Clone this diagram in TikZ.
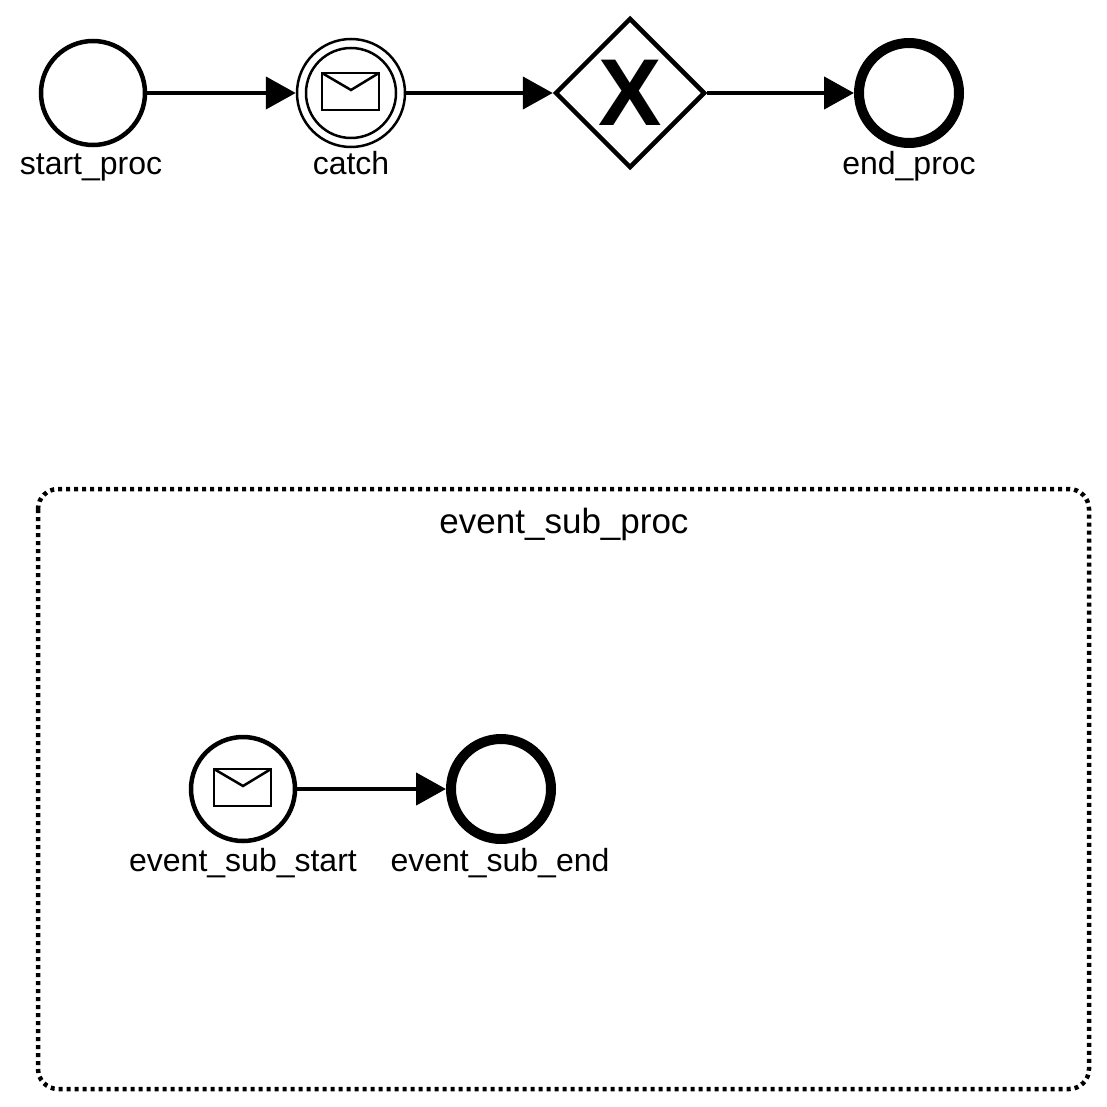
\documentclass[tikz,border=0pt]{standalone}
\usepackage{fontspec}
\setmainfont{Liberation Sans}
\usetikzlibrary{arrows.meta,shapes.geometric}
\begin{document}
\begin{tikzpicture}[x=1pt,y=-1pt,
  ev/.style={circle,draw,line width=4.5pt,minimum size=104pt,inner sep=0},
  endev/.style={circle,draw,line width=10pt,minimum size=100pt,inner sep=0},
  flow/.style={line width=4.5pt,-{Triangle[length=30pt,width=32pt]}},
  lbl/.style={font=\fontsize{32}{36}\selectfont,text height=23pt,text depth=7pt,inner sep=0},
  env/.style={draw,line width=2.5pt}]
\useasboundingbox (0,0) rectangle (1107,1107);
\node[ev] (s) at (93,93) {};
\node[circle,draw,line width=2.5pt,minimum size=108pt,inner sep=0] (c) at (351,93) {};
\draw[line width=2.5pt] (c) circle (45);
\draw[env] (322,73) rectangle (379,110); \draw[line width=2.5pt] (322,73) -- (351,90) -- (379,73);
\node[diamond,draw,line width=4.5pt,minimum size=150pt,inner sep=0,shape aspect=1] (g) at (630,93) {};
\node[font=\fontsize{95}{95}\selectfont\bfseries] (gx) at (630,93) {X};
\node[endev] (e) at (909,93) {};
\node[lbl] (ls) at (91,167) {start\_proc};
\node[lbl] (lc) at (351,167) {catch};
\node[lbl] (le) at (909,167) {end\_proc};
\draw[flow] (s) -- (c);
\draw[flow] (c) -- (g.west);
\draw[flow] (g.east) -- (e);
\draw[line width=4.5pt,dash pattern=on 4pt off 4pt,rounded corners=20pt] (38,489) rectangle (1089,1089);
\node[font=\fontsize{35}{40}\selectfont] (lp) at (564,524) {event\_sub\_proc};
\node[ev] (ss) at (243,789) {};
\draw[env] (214,769) rectangle (271,806); \draw[line width=2.5pt] (214,769) -- (243,786) -- (271,769);
\node[endev] (se) at (501,789) {};
\draw[flow] (ss) -- (se);
\node[lbl] (lss) at (243,863) {event\_sub\_start};
\node[lbl] (lse) at (500,863) {event\_sub\_end};
\end{tikzpicture}
\end{document}
